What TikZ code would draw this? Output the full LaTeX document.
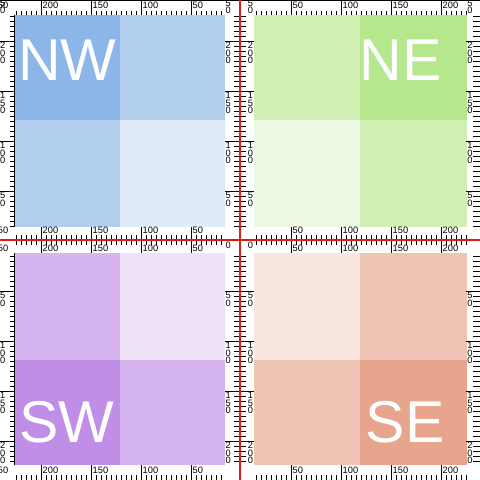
\documentclass[tikz,border=0pt]{standalone}
\usepackage{fontspec}
\setmainfont{Liberation Sans}
\definecolor{nwfonce}{HTML}{8DB6E8}
\definecolor{nwmoyen}{HTML}{B3CFEF}
\definecolor{nwclair}{HTML}{E0EBF8}
\definecolor{nefonce}{HTML}{B5E78C}
\definecolor{nemoyen}{HTML}{CFEFB5}
\definecolor{neclair}{HTML}{EDF8E3}
\definecolor{swfonce}{HTML}{C08EE6}
\definecolor{swmoyen}{HTML}{D5B4EF}
\definecolor{swclair}{HTML}{EEE2F9}
\definecolor{sefonce}{HTML}{E8A58E}
\definecolor{semoyen}{HTML}{F0C4B4}
\definecolor{seclair}{HTML}{F9E6DF}
\definecolor{rouge}{HTML}{E21B1B}
\begin{document}
\begin{tikzpicture}[x=1pt,y=-1pt]
	\tikzstyle{graduation}=[font=\fontsize{9.3}{7.5}\selectfont,inner sep=0pt,align=center]
	\tikzstyle{quartier}=[font=\fontsize{59}{59}\selectfont,text=white,inner sep=0pt,anchor=base west]
	\tikzstyle{trait}=[line width=1pt]
	\tikzstyle{axe}=[line width=2pt,draw=rouge]
	\useasboundingbox (0,0) rectangle (480,480);
	\clip (0,0) rectangle (480,480);
	\fill[white] (0,0) rectangle (480,480);
	% carres
	\fill[nwmoyen] (15,15) rectangle (225,227); % NW
	\fill[nwfonce] (15,15) rectangle (120,120);
	\fill[nwclair] (120,120) rectangle (225,227);
	\fill[nemoyen] (254,15) rectangle (467,227); % NE
	\fill[nefonce] (360,15) rectangle (467,120);
	\fill[neclair] (254,120) rectangle (360,227);
	\fill[swmoyen] (15,253) rectangle (225,465); % SW
	\fill[swfonce] (15,360) rectangle (120,465);
	\fill[swclair] (120,253) rectangle (225,360);
	\fill[semoyen] (254,253) rectangle (467,465); % SE
	\fill[sefonce] (360,360) rectangle (467,465);
	\fill[seclair] (254,253) rectangle (360,360);
	\node[quartier] (nw) at (17.8,80.7) {NW};
	\node[quartier] (ne) at (359.5,80.7) {NE};
	\node[quartier] (sw) at (19,442.5) {SW};
	\node[quartier] (se) at (365.6,442.5) {SE};
	% bords
	\draw[trait] (0,0.5) -- (480,0.5);
	\draw[trait] (14.5,15) -- (14.5,227);
	\draw[trait] (14.5,253) -- (14.5,465);
	% graduations horizontales
	\foreach \k in {4,...,45}{
		\draw[trait] ({241.5-5*\k},15) -- ++(0,-4); % haut
		\draw[trait] ({241.5-5*\k},240) -- ++(0,-5); % milieu
		\draw[trait] ({241.5-5*\k},240) -- ++(0,5);
		\draw[trait] ({241.5-5*\k},480) -- ++(0,-5); % bas
	}
	\foreach \k in {3,...,45}{
		\draw[trait] ({241.5+5*\k},15) -- ++(0,-4);
		\draw[trait] ({241.5+5*\k},240) -- ++(0,-5);
		\draw[trait] ({241.5+5*\k},240) -- ++(0,5);
		\draw[trait] ({241.5+5*\k},480) -- ++(0,-5);
	}
	% graduations verticales
	\foreach \k in {3,...,45}{
		\draw[trait] (15,{241.5-5*\k}) -- ++(-5,0); % gauche
		\draw[trait] (240,{241.5-5*\k}) -- ++(-6,0); % centre
		\draw[trait] (240,{241.5-5*\k}) -- ++(6,0);
		\draw[trait] (480,{241.5-5*\k}) -- ++(-7,0); % droite
	}
	\foreach \k in {3,...,44}{
		\draw[trait] (15,{241.5+5*\k}) -- ++(-5,0);
		\draw[trait] (240,{241.5+5*\k}) -- ++(-6,0);
		\draw[trait] (240,{241.5+5*\k}) -- ++(6,0);
		\draw[trait] (480,{241.5+5*\k}) -- ++(-7,0);
	}
	% grands traits
	\foreach \m in {1,...,4}{
		\draw[trait] ({241.5-50*\m},15) -- ++(0,-15);
		\draw[trait] ({241.5-50*\m},227) -- ++(0,26);
		\draw[trait] ({241.5-50*\m},480) -- ++(0,-15);
		\draw[trait] ({241.5+50*\m},15) -- ++(0,-15);
		\draw[trait] ({241.5+50*\m},227) -- ++(0,26);
		\draw[trait] ({241.5+50*\m},480) -- ++(0,-15);
		\draw[trait] (15,{241.5-50*\m}) -- ++(-15,0);
		\draw[trait] (225,{241.5-50*\m}) -- ++(29,0);
		\draw[trait] (480,{241.5-50*\m}) -- ++(-14,0);
		\draw[trait] (15,{241.5+50*\m}) -- ++(-15,0);
		\draw[trait] (225,{241.5+50*\m}) -- ++(29,0);
		\draw[trait] (480,{241.5+50*\m}) -- ++(-14,0);
	}
	% nombres horizontaux
	\foreach \m/\v in {1/50,2/100,3/150,4/200,5/250}{
		\node[graduation,anchor=west] (ho\m) at ({242.5-50*\m},5.5) {\v};
		\node[graduation,anchor=west] (hmo\m) at ({242.5-50*\m},230.3) {\v};
		\node[graduation,anchor=west] (hmso\m) at ({242.5-50*\m},248) {\v};
		\node[graduation,anchor=west] (hbo\m) at ({242.5-50*\m},470.3) {\v};
		\node[graduation,anchor=west] (he\m) at ({242.5+50*\m},5.5) {\v};
		\node[graduation,anchor=west] (hme\m) at ({242.5+50*\m},230.3) {\v};
		\node[graduation,anchor=west] (hmse\m) at ({242.5+50*\m},248) {\v};
		\node[graduation,anchor=west] (hbe\m) at ({242.5+50*\m},470.3) {\v};
	}
	% nombres verticaux
	\foreach \m/\v in {1/{5\\0},2/{1\\0\\0},3/{1\\5\\0},4/{2\\0\\0},5/{2\\5\\0}}{
		\node[graduation,anchor=north] (vgn\m) at (2.7,{242-50*\m}) {\v};
		\node[graduation,anchor=north] (vcon\m) at (228.3,{242-50*\m}) {\v};
		\node[graduation,anchor=north] (vcen\m) at (250.5,{242-50*\m}) {\v};
		\node[graduation,anchor=north] (vdn\m) at (470,{242-50*\m}) {\v};
		\node[graduation,anchor=north] (vgs\m) at (2.7,{242+50*\m}) {\v};
		\node[graduation,anchor=north] (vcos\m) at (228.3,{242+50*\m}) {\v};
		\node[graduation,anchor=north] (vces\m) at (250.5,{242+50*\m}) {\v};
		\node[graduation,anchor=north] (vds\m) at (470,{242+50*\m}) {\v};
	}
	\node[graduation,anchor=north] (vco0) at (228.3,242) {0};
	\node[graduation,anchor=north] (vce0) at (250.5,242) {0};
	% axes
	\draw[axe] (240,0) -- (240,480);
	\draw[axe] (0,239.7) -- (480,239.7);
\end{tikzpicture}
\end{document}
